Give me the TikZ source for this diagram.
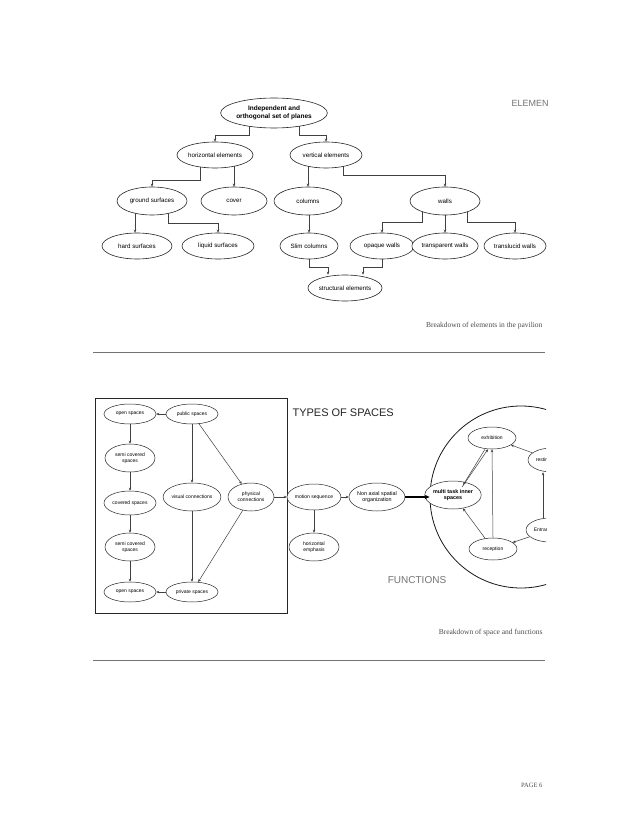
\documentclass[tikz,border=0pt]{standalone}
\usepackage{fontspec}
\setmainfont{Liberation Serif}
\newfontfamily\sansf{Liberation Sans}
\usetikzlibrary{shapes.geometric,arrows.meta}
\pgfdeclarelayer{bg}\pgfsetlayers{bg,main}
\begin{document}
\begin{tikzpicture}[x=1pt,y=-1pt,
  el/.style={ellipse,draw=black!85,line width=0.6pt,fill=white,inner sep=0pt,minimum height=#1,font=\sansf\fontsize{6.2}{6.8}\selectfont,align=center},
  el/.default=26,
  sl/.style={ellipse,draw=black!85,line width=0.5pt,fill=white,inner sep=0pt,minimum height=#1,font=\sansf\fontsize{5}{5.8}\selectfont,align=center},
  sl/.default=20,
  arr/.style={draw=black!75,line width=0.5pt,-{Stealth[length=3pt,width=2.6pt]}},
  captxt/.style={font=\fontsize{7.5}{9}\selectfont,text=black!70,anchor=east}]
\useasboundingbox (0,0) rectangle (638,826);
\begin{pgfonlayer}{bg}
\fill[white] (0,0) rectangle (638,826);
\end{pgfonlayer}
% ---------- top diagram ----------
\node[el=30,minimum width=100,font=\sansf\bfseries\fontsize{6.5}{7.5}\selectfont] (ind) at (274,113) {Independent and\\orthogonal set of planes};
\node[el,minimum width=68] (hor) at (215,155) {horizontal elements};
\node[el,minimum width=72] (ver) at (326,155) {vertical elements};
\node[el=28,minimum width=70] (gro) at (152,201) {ground surfaces};
\node[el=28,minimum width=66] (cov) at (234,201) {cover};
\node[el=28,minimum width=68] (col) at (308,201) {columns};
\node[el=28,minimum width=70] (wal) at (445,201) {walls};
\node[el,minimum width=70] (har) at (137,246) {hard surfaces};
\node[el,minimum width=72] (liq) at (218,246) {liquid surfaces};
\node[el,minimum width=58] (sli) at (309,246) {Slim columns};
\node[el,minimum width=64] (opa) at (382,246) {opaque walls};
\node[el,minimum width=60] (tra) at (445,246) {transparent walls};
\node[el,minimum width=62] (trl) at (515,246) {translucid walls};
\node[el,minimum width=68] (str) at (345,288) {structural elements};
\begin{pgfonlayer}{bg}
\draw[arr] (ind) ++(-25,0) -- (249,135) -| (hor.north);
\draw[arr] (ind) ++(25,0) -- (299,135) -| (ver.north);
\draw[arr] (hor) ++(-15,0) -- (200,180) -| (gro.north);
\draw[arr] (hor.center -| cov.north) -- (cov.north);
\draw[arr] (ver.center -| col.north) -- (col.north);
\draw[arr] (ver) ++(17,0) -- (343,175) -| (wal.north);
\draw[arr] (gro.center -| 135,0) -- (har.north -| 135,0);
\draw[arr] (gro) ++(16,0) -- (168,223) -| (liq.north);
\draw[arr] (col.center -| sli.north) -- (sli.north);
\draw[arr] (wal) ++(-23,0) -- (422,222) -| (opa.north);
\draw[arr] (wal.center) -- (tra.north);
\draw[arr] (wal) ++(22,0) -- (467,222) -| (trl.north);
\draw[arr] (sli.center) -- (309,267) -| (str.north -| 328,0);
\draw[arr] (opa.center) -- (382,267) -| (str.north -| 363,0);
\end{pgfonlayer}
\node[font=\sansf\fontsize{9}{10}\selectfont,text=black!55,anchor=west] (elem) at (508,103) {ELEMEN};
\node[captxt] (cap1) at (546,326) {Breakdown of elements in the pavilion};
\draw[black!55,line width=0.6pt] (93,352) -- (545,352);
% ---------- bottom diagram ----------
\draw[black!85,line width=0.8pt] (95,398) rectangle (287,613);
\node[sl,minimum width=52] (op1) at (130,414) {open spaces};
\node[sl,minimum width=52] (pub) at (192,414) {public spaces};
\node[sl=28,minimum width=50] (sc1) at (130,458) {semi covered\\spaces};
\node[sl=24,minimum width=52] (cvs) at (130,503) {covered spaces};
\node[sl=28,minimum width=50] (sc2) at (130,547) {semi covered\\spaces};
\node[sl,minimum width=52] (op2) at (130,592) {open spaces};
\node[sl,minimum width=52] (pri) at (192,592) {private spaces};
\node[sl=28,minimum width=55] (vis) at (192,497) {visual connections};
\node[sl=28,minimum width=46] (phy) at (251,497) {physical\\connections};
\node[sl=26,minimum width=52] (mot) at (314,497) {motion sequence};
\node[sl=28,minimum width=50] (hem) at (314,547) {horizontal\\emphasis};
\node[sl=28,minimum width=52,font=\sansf\fontsize{5.4}{6}\selectfont] (non) at (377,497) {Non axial spatial\\organization};
\draw[arr] (pub) -- (op1);
\draw[arr] (op1) -- (sc1);
\draw[arr] (sc1) -- (cvs);
\draw[arr] (cvs) -- (sc2);
\draw[arr] (sc2) -- (op2);
\draw[arr] (pri) -- (op2);
\draw[arr] (pub) -- (vis);
\draw[arr] (pub) -- (phy);
\draw[arr] (vis) -- (pri);
\draw[arr] (phy) -- (pri);
\draw[arr] (phy) -- (mot);
\draw[arr] (mot) -- (non);
\draw[arr] (mot) -- (hem);
\node[font=\sansf\fontsize{11}{12}\selectfont,text=black!85,anchor=west] (tos) at (289,413) {TYPES OF SPACES};
\node[font=\sansf\fontsize{10}{12}\selectfont,text=black!55] (fun) at (417,580) {FUNCTIONS};
\begin{scope}
\clip (0,380) rectangle (546,620);
\node[circle,draw=black!90,line width=0.8pt,minimum size=182,inner sep=0pt] (cir) at (521,497) {};
\node[sl=22,minimum width=48] (exh) at (492,438) {exhibition};
\node[sl=24,minimum width=48] (res) at (552,460) {resting spaces};
\node[sl=28,minimum width=50,font=\sansf\bfseries\fontsize{5.4}{6}\selectfont] (mul) at (453,495) {multi task inner\\spaces};
\node[sl=24,minimum width=48] (ent) at (550,530) {Entrance patio};
\node[sl=22,minimum width=48] (rec) at (493,549) {reception};
\draw[arr] ([xshift=-2pt]mul.north east) ++(-9,2) -- ([xshift=-4pt]exh.south);
\draw[arr] ([xshift=-1pt]exh.south) ++(-6,0) -- ([xshift=-10pt]mul.north east);
\draw[arr] (rec) -- (mul);
\draw[arr] (rec.north) -- (exh.south);
\draw[arr] (res) -- (exh);
\draw[arr] (ent.north -| 543,0) -- (res.south -| 543,0);
\draw[arr] (ent) -- (rec);
\end{scope}
\draw[black,line width=1.1pt,-{Stealth[length=5pt,width=4.5pt]}] (non) -- (cir.west);
\node[captxt] (cap2) at (546,633) {Breakdown of space and functions};
\draw[black!55,line width=0.6pt] (93,660) -- (545,660);
\node[captxt,font=\fontsize{6.5}{7}\selectfont] (pg) at (546,785) {PAGE 6};
\end{tikzpicture}
\end{document}
